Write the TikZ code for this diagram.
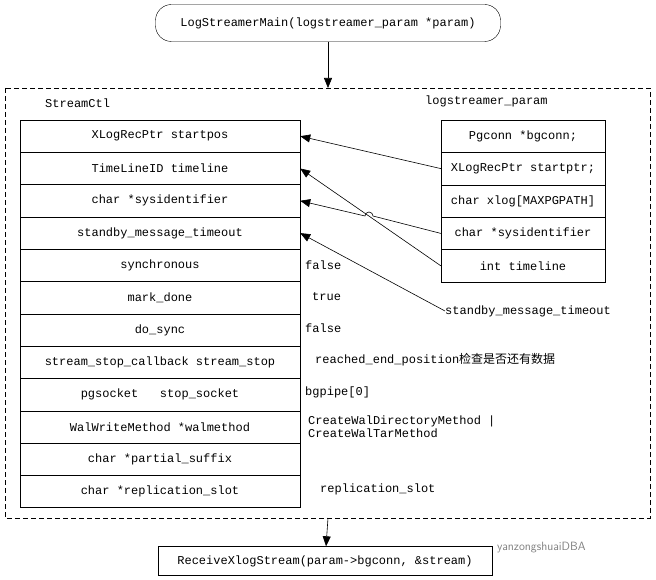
\documentclass[tikz,border=0pt]{standalone}
\usepackage{fontspec}
\setmainfont{Liberation Mono}
\newfontfamily\cjk{Noto Sans CJK SC}
\usetikzlibrary{arrows.meta,positioning,calc}

\tikzset{
  cell/.style={draw, minimum width=280pt, minimum height=32.3pt, inner sep=0pt, font=\fontsize{12}{13}\selectfont},
  pcell/.style={draw, minimum width=164pt, minimum height=32.4pt, inner sep=0pt, font=\fontsize{12}{13}\selectfont},
  val/.style={anchor=west, inner sep=0pt, font=\fontsize{12}{13}\selectfont},
  ptr/.style={-{Triangle[length=10pt,width=8pt]}, line width=0.6pt}
}

\begin{document}
\begin{tikzpicture}[x=1pt,y=-1pt]
  \useasboundingbox (0,0) rectangle (656,580);
  % top call
  \node[draw, rounded corners=16pt, minimum width=345pt, minimum height=37pt, font=\fontsize{12}{13}\selectfont] (main) at (328,23) {LogStreamerMain(logstreamer\_param *param)};
  \draw[dash pattern=on 5pt off 3pt] (5,88) rectangle (650,518);
  \coordinate (boxtop) at (328,88);
  \coordinate (boxbot) at (328,518);
  \draw[ptr] (main) -- (boxtop);
  \node[val] (ctlname) at (45,103) {StreamCtl};
  \node[val] (parname) at (425,101) {logstreamer\_param};

  % StreamCtl fields
  \foreach \t [count=\i from 0] in {XLogRecPtr startpos, TimeLineID timeline, char *sysidentifier,
      standby\_message\_timeout, synchronous, mark\_done, do\_sync,
      stream\_stop\_callback stream\_stop, pgsocket\ \ \ stop\_socket,
      WalWriteMethod *walmethod, char *partial\_suffix, char *replication\_slot}
    \node[cell] (c\i) at (160,{136.2+32.3*\i}) {\t};

  % logstreamer_param fields
  \foreach \t [count=\i from 0] in {Pgconn *bgconn;, XLogRecPtr startptr;, char xlog[MAXPGPATH],
      char *sysidentifier, int timeline}
    \node[pcell] (p\i) at (523,{136.2+32.4*\i}) {\t};

  % values
  \node[val] (v4) at (305,265) {false};
  \node[val] (v5) at (312,297) {true};
  \node[val] (v6) at (305,328) {false};
  \node[val] (v7) at (315,360) {reached\_end\_position{\cjk 检查是否还有数据}};
  \node[val] (v8) at (305,392) {bgpipe[0]};
  \node[val, align=left] (v9) at (308,427) {CreateWalDirectoryMethod |\\CreateWalTarMethod};
  \node[val] (v11) at (320,489) {replication\_slot};
  \node[val] (tmo) at (445,311) {standby\_message\_timeout};

  % pointers
  \draw[ptr] (p1.west) -- (c0.east);
  \draw[ptr] (p4.west) -- (c1.east);
  \draw[ptr] (p3.west) -- (373,216) arc[start angle=0, end angle=-180, radius=4] -- (c2.east);
  \draw[ptr] (tmo.west) -- (c3.east);

  % receive
  \node[draw, minimum width=334pt, minimum height=29pt, font=\fontsize{12}{13}\selectfont] (recv) at (325,561) {ReceiveXlogStream(param->bgconn, \&stream)};
  \draw[ptr] (boxbot) -- (recv);
  \node[val, text=gray, font=\fontsize{12}{13}\selectfont\sffamily] (wm) at (497,548) {yanzongshuaiDBA};
\end{tikzpicture}
\end{document}
